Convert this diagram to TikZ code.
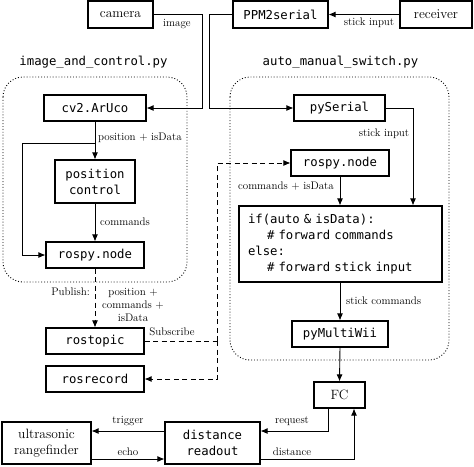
\documentclass[tikz,border=0pt]{standalone}
\usepackage{fontspec}
\newfontfamily\monofont{DejaVu Sans Mono}
\usetikzlibrary{arrows.meta}
\begin{document}
\begin{tikzpicture}[x=1pt,y=-1pt,
  box/.style={draw, line width=1.1pt, inner sep=0pt, align=center},
  code/.style={box, font=\monofont\fontsize{12.3}{16}\selectfont},
  plain/.style={box, font=\fontsize{13.5}{16.5}\selectfont},
  lbl/.style={font=\fontsize{11}{13}\selectfont, inner sep=0pt},
  conn/.style={line width=0.9pt, -{Latex[length=7pt,width=6pt]}},
  line/.style={line width=0.9pt},
  dsh/.style={dash pattern=on 5pt off 3.5pt},
  group/.style={dotted, line width=0.9pt, rounded corners=20pt},
  title/.style={font=\monofont\fontsize{12.3}{15}\selectfont, inner sep=0pt}]
\useasboundingbox (0,0) rectangle (474,466);

% groups
\draw[group] (3,77) rectangle (187,282);
\draw[group] (230,77) rectangle (449,360);
\node[title] (t1) at (93.5,62) {image\_and\_control.py};
\node[title] (t2) at (340.5,62) {auto\_manual\_switch.py};

% nodes
\node[plain, minimum width=65pt, minimum height=27pt] (camera) at (120.5,14.5) {camera};
\node[code, minimum width=95pt, minimum height=27pt] (ppm) at (280.5,14.5) {PPM2serial};
\node[plain, minimum width=72pt, minimum height=27pt] (receiver) at (436,14.5) {receiver};
\node[code, minimum width=102pt, minimum height=26pt] (aruco) at (95,108) {cv2.ArUco};
\node[code, minimum width=80pt, minimum height=43pt] (posctrl) at (95,181.5) {position\\control};
\node[code, minimum width=98pt, minimum height=26pt] (rospyL) at (95,255) {rospy.node};
\node[code, minimum width=98pt, minimum height=26pt] (rostopic) at (95,341) {rostopic};
\node[code, minimum width=98pt, minimum height=26pt] (rosrecord) at (95,379) {rosrecord};
\node[code, minimum width=91pt, minimum height=26pt] (pyserial) at (339.5,108) {pySerial};
\node[code, minimum width=98pt, minimum height=26pt] (rospyR) at (340,163) {rospy.node};
\node[code, text width=185pt, inner xsep=9pt, align=left, minimum height=76pt] (ifbox) at (340.5,244)
  {if(auto \& isData):\\\hspace*{19pt}\# forward commands\\else:\\\hspace*{19pt}\# forward stick input};
\node[code, minimum width=96pt, minimum height=26pt] (multiwii) at (340,334) {pyMultiWii};
\node[plain, minimum width=51pt, minimum height=26pt] (fc) at (339.5,395) {FC};
\node[code, minimum width=95pt, minimum height=42pt] (readout) at (212.5,443) {distance\\readout};
\node[plain, minimum width=89pt, minimum height=42pt] (ultra) at (46.5,443) {ultrasonic\\rangefinder};

% top connectors
\coordinate (camc) at (202,14.5);
\draw[conn] (camera.east) -- (camc) |- (aruco.east);
\node[lbl] (limage) at (177,24) {image};
\coordinate (ppmc) at (209,14.5);
\draw[conn] (ppm.west) -- (ppmc) |- (pyserial.west);
\draw[conn] (receiver.west) -- (ppm.east);
\node[lbl] (lstick1) at (369,23) {stick input};

% left group
\draw[conn] (aruco.south) -- (posctrl.north);
\node[lbl, anchor=west] (lposis) at (98,138) {position + isData};
\coordinate (br) at (95,143);
\draw[conn] (br) -- (22,143) |- (rospyL.west);
\draw[conn] (posctrl.south) -- (rospyL.north);
\node[lbl, anchor=west] (lcmd) at (100,222) {commands};

% publish / subscribe
\draw[conn, dsh] (rospyL.south) -- (rostopic.north);
\node[lbl, anchor=east] (lpub) at (90,292) {Publish:};
\node[lbl, align=center, font=\fontsize{11}{13}\selectfont] (lpubdata) at (133,305) {position +\\commands +\\isData};
\coordinate (sub) at (217,341);
\draw[line, dsh] (rostopic.east) -- (sub);
\draw[conn, dsh] (sub) |- (rospyR.west);
\draw[conn, dsh] (sub) |- (rosrecord.east);
\node[lbl] (lsub) at (172,332) {Subscribe};

% right group
\coordinate (psc) at (413,108);
\draw[conn] (pyserial.east) -- (psc) -- (psc |- ifbox.north);
\node[lbl] (lstick2) at (384,134) {stick input};
\draw[conn] (rospyR.south) -- (ifbox.north -| rospyR.south);
\node[lbl, anchor=east] (lcmdis) at (334,186) {commands + isData};
\draw[conn] (ifbox.south -| multiwii.north) -- (multiwii.north);
\node[lbl, anchor=west] (lstickcmd) at (346,301) {stick commands};
\draw[conn] (multiwii.south) -- (fc.north);

% bottom
\coordinate (req) at (328,431);
\draw[conn] (fc.south -| req) -- (req) -- (req -| readout.east);
\node[lbl] (lreq) at (292,421) {request};
\coordinate (dst) at (354,459);
\draw[conn] (dst -| readout.east) -- (dst) -- (dst |- fc.south);
\node[lbl] (ldist) at (292,452) {distance};
\coordinate (trg) at (165,431);
\draw[conn] (trg) -- (trg -| ultra.east);
\node[lbl] (ltrig) at (128,421) {trigger};
\coordinate (ech) at (91,459);
\draw[conn] (ech) -- (ech -| readout.west);
\node[lbl] (lecho) at (128,452) {echo};
\end{tikzpicture}
\end{document}
